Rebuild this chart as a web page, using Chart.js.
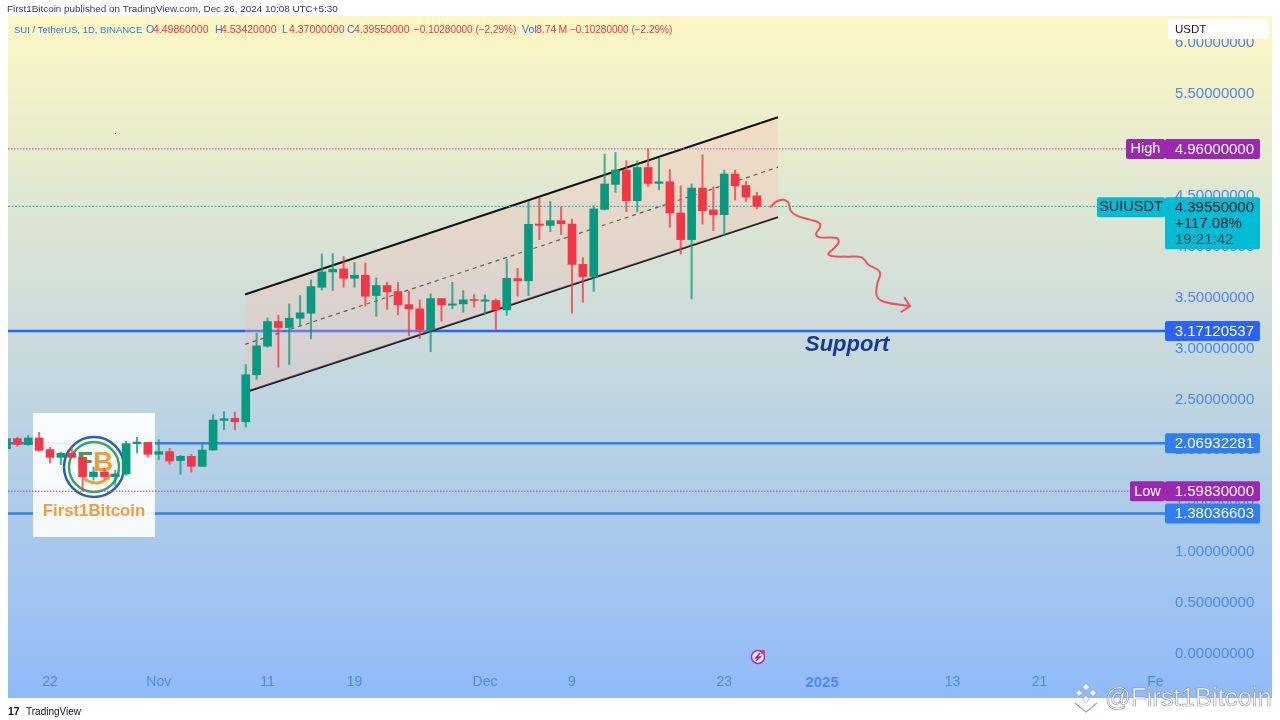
<!DOCTYPE html>
<html>
<head>
<meta charset="utf-8">
<title>SUI / TetherUS</title>
<script src="https://cdn.jsdelivr.net/npm/chart.js@4"></script>
<style>
  html, body { margin: 0; padding: 0; background: #fff; }
  canvas { display: block; }
</style>
</head>
<body>
<canvas id="suiChart" width="1280" height="720"></canvas>
<script>
// days counted from 22 Oct 2024
const days = [-4,-3,-2,-1,0,1,2,3,4,5,6,7,8,9,10,11,12,13,14,15,16,17,18,19,20,21,22,23,24,25,26,27,28,29,30,31,32,33,34,35,36,37,38,39,40,41,42,43,44,45,46,47,48,49,50,51,52,53,54,55,56,57,58,59,60,61,62,63,64,65];
const opens = [2.016,2.115,2.056,2.121,2.007,1.931,1.971,1.931,1.742,1.787,1.742,1.768,2.066,2.078,1.961,1.987,1.899,1.941,1.843,2.003,2.294,2.314,2.281,2.742,3.023,3.265,3.206,3.297,3.346,3.601,3.752,3.781,3.689,3.719,3.520,3.618,3.559,3.431,3.389,3.183,3.490,3.425,3.438,3.480,3.464,3.471,3.379,3.686,3.664,4.222,4.209,4.255,4.222,3.826,3.706,4.366,4.611,4.752,4.451,4.777,4.621,4.637,4.330,4.069,4.575,4.360,4.314,4.713,4.601,4.4986];
const highs = [2.137,2.127,2.147,2.176,2.029,1.983,2.039,1.951,1.836,1.824,1.804,2.088,2.127,2.078,2.105,2.020,1.951,1.961,2.059,2.350,2.382,2.375,2.843,3.150,3.301,3.326,3.438,3.520,3.673,3.928,3.931,3.902,3.843,3.840,3.693,3.650,3.650,3.562,3.477,3.536,3.490,3.650,3.569,3.529,3.526,3.487,3.873,3.787,4.444,4.477,4.444,4.392,4.271,3.892,4.402,4.909,4.925,4.843,4.843,4.96,4.866,4.758,4.598,4.615,4.902,4.588,4.752,4.752,4.640,4.5342];
const lows = [2.010,2.039,2.049,1.993,1.875,1.860,1.931,1.60,1.706,1.716,1.657,1.755,1.974,1.934,1.909,1.863,1.765,1.787,1.843,2.0,2.203,2.203,2.228,2.696,3.013,2.817,2.843,3.225,3.095,3.575,3.569,3.601,3.601,3.415,3.317,3.385,3.330,3.127,3.095,2.968,3.268,3.389,3.356,3.405,3.340,3.170,3.324,3.513,3.520,4.069,4.147,4.118,3.346,3.454,3.559,4.360,4.532,4.343,4.343,4.591,4.559,4.189,3.928,3.487,4.222,4.157,4.108,4.458,4.444,4.37];
const closes = [2.115,2.059,2.121,2.0,1.931,1.971,1.931,1.742,1.787,1.742,1.768,2.066,2.081,1.961,1.987,1.895,1.941,1.843,2.003,2.297,2.311,2.281,2.742,3.026,3.265,3.206,3.297,3.350,3.608,3.752,3.777,3.689,3.719,3.513,3.618,3.556,3.428,3.389,3.186,3.490,3.428,3.438,3.477,3.471,3.477,3.379,3.689,3.664,4.219,4.209,4.255,4.225,3.826,3.706,4.370,4.615,4.752,4.451,4.777,4.621,4.637,4.330,4.069,4.575,4.353,4.314,4.713,4.598,4.487,4.3955];

const priceTicks = [0,0.5,1,1.5,2,2.5,3,3.5,4,4.5,5,5.5,6];
const dayTicks = [0,10,20,28,40,48,62,71,83,91,102];
const dayLabels = ['22','Nov','11','19','Dec','9','23','2025','13','21','Feb'];

const supportLevels = [3.17120537, 2.06932281, 1.38036603];
const supportColors = ['#2962ff', '#2f7ff2', '#2f7ff2'];
const highPrice = 4.96;
const lowPrice = 1.5983;
const lastPrice = 4.3955;

// drawn channel
const channelDays = [17.93, 66.94];
const channelTop = [3.53, 5.27];
const channelMid = [3.04, 4.78];
const channelBottom = [2.57, 4.29];

// hand drawn red arrow
const arrowDays = [66.21,66.82,67.43,67.89,68.11,68.66,69.89,70.74,70.80,70.44,70.80,72.34,72.52,72.03,71.57,72.03,73.26,74.64,75.24,76.32,76.07,76.02,76.62,79.08];
const arrowPrices = [4.385,4.444,4.461,4.434,4.353,4.304,4.265,4.232,4.189,4.125,4.091,4.085,4.042,3.977,3.928,3.905,3.902,3.895,3.824,3.748,3.634,3.520,3.461,3.415];
const headDays = [78.56,79.08,78.23];
const headPrices = [3.503,3.415,3.356];

const UP = '#089981', DOWN = '#f23645';
const X_MIN = -3.862, X_MAX = 102.53;
const AXIS_BLUE = '#4f86f0';

function pairs(xs, ys) {
  return xs.map((x, i) => ({ x: x, y: ys[i] }));
}
function flatLine(value) {
  return [{ x: X_MIN, y: value }, { x: X_MAX, y: value }];
}
function lineSet(label, data, color, width, order, extra) {
  return Object.assign({
    type: 'line', label: label, data: data, borderColor: color, borderWidth: width,
    pointRadius: 0, fill: false, order: order
  }, extra || {});
}

function panelFill(ctx, x, y, w, h) {
  const g = ctx.createLinearGradient(0, 16, 0, 698);
  g.addColorStop(0, '#fdf7c3');
  g.addColorStop(1, '#8fbbf8');
  ctx.fillStyle = g;
  ctx.fillRect(x, y, w, h);
}

function text(ctx, str, x, y, font, color, align) {
  ctx.font = font;
  ctx.fillStyle = color;
  ctx.textAlign = align || 'left';
  ctx.textBaseline = 'middle';
  ctx.fillText(str, x, y);
}

function box(ctx, x, y, w, h, color) {
  ctx.fillStyle = color;
  ctx.beginPath();
  ctx.roundRect(x, y, w, h, 2);
  ctx.fill();
}

function drawLogo(ctx) {
  ctx.save();
  ctx.fillStyle = 'rgba(255,255,255,0.9)';
  ctx.fillRect(33, 413, 122, 124);
  ctx.lineWidth = 2.5;
  ctx.strokeStyle = '#2b5fa8';
  ctx.beginPath(); ctx.arc(94, 467, 30, 0, Math.PI * 2); ctx.stroke();
  ctx.strokeStyle = '#3fa35a';
  ctx.beginPath(); ctx.arc(94, 467, 25, 0, Math.PI * 2); ctx.stroke();
  text(ctx, 'F', 85, 463, 'bold 26px "Liberation Sans"', '#3f9a55', 'center');
  text(ctx, 'B', 103, 463, 'bold 28px "Liberation Sans"', '#ee9f3a', 'center');
  ctx.strokeStyle = '#ee9f3a';
  ctx.lineWidth = 3;
  ctx.beginPath(); ctx.arc(96, 466, 17, 0.5, 2.4); ctx.stroke();
  text(ctx, 'First1Bitcoin', 94, 511, 'bold 16.8px "Liberation Sans"', '#ee9f3a', 'center');
  ctx.restore();
}

const panelPlugin = {
  id: 'panel',
  beforeDraw(chart) {
    panelFill(chart.ctx, 8, 16, 1264, 682);
  },
  beforeDatasetDraw(chart, args) {
    if (chart.data.datasets[args.index].label === 'wicks') drawLogo(chart.ctx);
  },
  afterDraw(chart) {
    const ctx = chart.ctx;
    const yScale = chart.scales.y;
    const font = '15px "Liberation Sans"';
    ctx.save();

    // price axis hides the end of the last date label
    panelFill(ctx, 1163, 672, 109, 26);

    // header and legend row
    text(ctx, 'First1Bitcoin published on TradingView.com, Dec 26, 2024 10:08 UTC+5:30', 7, 9, '9.9px "Liberation Sans"', '#3a3e4a');
    const small = '10.5px "Liberation Sans"';
    const legend = [
      ['O', 146, '#2f7bf0'], ['4.49860000', 153, DOWN],
      ['H', 215, '#2f7bf0'], ['4.53420000', 221, DOWN],
      ['L', 282, '#2f7bf0'], ['4.37000000', 289, DOWN],
      ['C', 347, '#2f7bf0'], ['4.39550000', 354, DOWN],
      ['Vol', 522, '#2f7bf0'], ['8.74\u2009M', 536, DOWN]
    ];
    legend.forEach(l => text(ctx, l[0], l[1], 30, small, l[2]));
    text(ctx, 'SUI / TetherUS, 1D, BINANCE', 14, 30, '9.5px "Liberation Sans"', '#2f7bf0');
    text(ctx, '\u22120.10280000 (\u22122.29%)', 414, 30, '10px "Liberation Sans"', DOWN);
    text(ctx, '\u22120.10280000 (\u22122.29%)', 570, 30, '10px "Liberation Sans"', DOWN);

    // Support note
    text(ctx, 'Support', 805, 345, 'italic bold 22px "Liberation Sans"', '#123a9c');

    // tiny dot left on the drawing
    ctx.fillStyle = '#444';
    ctx.fillRect(115, 133, 1, 1);

    // lightning icon
    ctx.fillStyle = '#f3eefc';
    ctx.strokeStyle = '#b02bc4';
    ctx.lineWidth = 1.5;
    ctx.beginPath(); ctx.arc(758, 657, 6.5, 0, Math.PI * 2); ctx.fill(); ctx.stroke();
    ctx.strokeStyle = '#8e24aa';
    ctx.beginPath(); ctx.moveTo(760, 653); ctx.lineTo(756, 658); ctx.lineTo(760, 657); ctx.lineTo(756, 661); ctx.stroke();
    ctx.fillStyle = '#f23645';
    ctx.beginPath(); ctx.arc(763, 652, 2.2, 0, Math.PI * 2); ctx.fill();

    // USDT unit box
    box(ctx, 1168, 19, 101, 20, '#ffffff');
    text(ctx, 'USDT', 1175, 29.5, '11.5px "Liberation Sans"', '#131722');

    // value tags on the axis
    supportLevels.forEach((v, i) => {
      const y = yScale.getPixelForValue(v);
      box(ctx, 1165, y - 10, 95, 20, supportColors[i]);
      text(ctx, v.toFixed(8), 1254, y + 0.5, font, '#ffffff', 'right');
    });

    const hy = yScale.getPixelForValue(highPrice);
    box(ctx, 1126, hy - 10, 39, 20, '#9c27b0');
    box(ctx, 1165, hy - 10, 95, 20, '#9c27b0');
    text(ctx, 'High', 1145.5, hy + 0.5, '14.5px "Liberation Sans"', '#ffffff', 'center');
    text(ctx, highPrice.toFixed(8), 1254, hy + 0.5, font, '#ffffff', 'right');

    const ly = yScale.getPixelForValue(lowPrice);
    box(ctx, 1130, ly - 10, 35, 20, '#9c27b0');
    box(ctx, 1165, ly - 10, 95, 20, '#9c27b0');
    text(ctx, 'Low', 1147.5, ly + 0.5, '14.5px "Liberation Sans"', '#ffffff', 'center');
    text(ctx, lowPrice.toFixed(8), 1254, ly + 0.5, font, '#ffffff', 'right');

    const py = yScale.getPixelForValue(lastPrice);
    box(ctx, 1097, py - 9, 68, 20, '#00bcd4');
    box(ctx, 1165, py - 9, 95, 52, '#00bcd4');
    text(ctx, 'SUIUSDT', 1131, py + 1, '14.5px "Liberation Sans"', '#131722', 'center');
    text(ctx, lastPrice.toFixed(8), 1254, py + 1, font, '#131722', 'right');
    text(ctx, '+117.08%', 1175, py + 17.5, font, '#131722');
    text(ctx, '19:21:42', 1175, py + 33.5, font, '#2d4a55');

    // watermark
    ctx.fillStyle = 'rgba(255,255,255,0.92)';
    ctx.strokeStyle = 'rgba(120,125,135,0.75)';
    ctx.lineWidth = 0.7;
    [[1086, 687, 3.5], [1079, 693, 3.5], [1093, 693, 3.5], [1086, 699, 3.5]].forEach(d => {
      ctx.beginPath();
      ctx.moveTo(d[0], d[1] - d[2]); ctx.lineTo(d[0] + d[2], d[1]);
      ctx.lineTo(d[0], d[1] + d[2]); ctx.lineTo(d[0] - d[2], d[1]);
      ctx.closePath(); ctx.fill(); ctx.stroke();
    });
    ctx.strokeStyle = 'rgba(150,155,165,0.9)';
    ctx.lineWidth = 1.2;
    ctx.beginPath(); ctx.moveTo(1075, 703); ctx.lineTo(1086, 712); ctx.lineTo(1097, 703); ctx.stroke();
    ctx.font = '25.6px "Liberation Sans"';
    ctx.textAlign = 'left';
    ctx.textBaseline = 'alphabetic';
    ctx.lineWidth = 0.7;
    ctx.strokeStyle = 'rgba(120,125,135,0.75)';
    ctx.fillStyle = 'rgba(255,255,255,0.92)';
    ctx.fillText('@First1Bitcoin', 1105, 706);
    ctx.strokeText('@First1Bitcoin', 1105, 706);

    // footer
    text(ctx, '17', 8, 712, 'bold 10.5px "Liberation Sans"', '#131722');
    text(ctx, 'TradingView', 26, 712, '10px "Liberation Sans"', '#131722');
    ctx.restore();
  }
};

const ctx = document.getElementById('suiChart').getContext('2d');

new Chart(ctx, {
  type: 'bar',
  data: {
    datasets: [
      ...supportLevels.map((v, i) => lineSet('level ' + v, flatLine(v), supportColors[i], 2.5, 20)),
      lineSet('channel top', pairs(channelDays, channelTop), '#131313', 2, 10, {
        fill: { target: '+2' }, backgroundColor: 'rgba(250,185,178,0.3)'
      }),
      lineSet('channel mid', pairs(channelDays, channelMid), '#333', 1.2, 10, { borderDash: [4, 4] }),
      lineSet('channel bottom', pairs(channelDays, channelBottom), '#131313', 2, 10),
      lineSet('high', flatLine(highPrice), '#c44bd6', 1, 4.5, { borderDash: [1.5, 1.5] }),
      lineSet('low', flatLine(lowPrice), '#9c4fc0', 1, 4.5, { borderDash: [1.5, 1.5] }),
      lineSet('last', flatLine(lastPrice), '#00bcd4', 1, 4.5, { borderDash: [2, 1.5] }),
      {
        label: 'wicks',
        data: days.map((d, i) => ({ x: d, y: [lows[i], highs[i]] })),
        backgroundColor: closes.map((c, i) => c >= opens[i] ? 'rgba(8,153,129,0.75)' : 'rgba(242,54,69,0.75)'),
        barThickness: 1.4,
        grouped: false,
        order: 5
      },
      {
        label: 'bodies',
        data: days.map((d, i) => ({ x: d, y: [opens[i], closes[i]] })),
        backgroundColor: closes.map((c, i) => c >= opens[i] ? UP : DOWN),
        barThickness: 8,
        grouped: false,
        order: 4
      },
      lineSet('arrow', pairs(arrowDays, arrowPrices), '#f0505e', 2, 2, { tension: 0.4 }),
      lineSet('arrow head', pairs(headDays, headPrices), '#f0505e', 2, 2)
    ]
  },
  options: {
    responsive: false,
    animation: false,
    layout: { padding: { left: 8, right: 8, top: 16, bottom: 22 } },
    plugins: {
      legend: { display: false },
      tooltip: { enabled: false }
    },
    scales: {
      x: {
        type: 'linear',
        offset: false,
        min: X_MIN,
        max: X_MAX,
        grid: { display: false, drawTicks: false },
        border: { display: false },
        afterBuildTicks: scale => { scale.ticks = dayTicks.map(v => ({ value: v })); },
        afterFit: scale => { scale.height = 28; },
        ticks: {
          autoSkip: false,
          maxRotation: 0,
          padding: 4,
          color: AXIS_BLUE,
          callback: value => dayLabels[dayTicks.indexOf(value)],
          font: c => {
            const bold = c.tick && c.tick.value === 71;
            return { family: '"Liberation Sans"', size: bold ? 15 : 14, weight: bold ? 'bold' : 'normal' };
          }
        }
      },
      y: {
        position: 'right',
        min: -0.1569,
        max: 6.2353,
        grid: { display: false, drawTicks: false },
        border: { display: false },
        afterBuildTicks: scale => { scale.ticks = priceTicks.map(v => ({ value: v })); },
        afterFit: scale => { scale.width = 107; },
        ticks: {
          autoSkip: false,
          padding: 10,
          color: AXIS_BLUE,
          font: { family: '"Liberation Sans"', size: 15 },
          callback: value => value.toFixed(8)
        }
      }
    }
  },
  plugins: [panelPlugin]
});
</script>
</body>
</html>
